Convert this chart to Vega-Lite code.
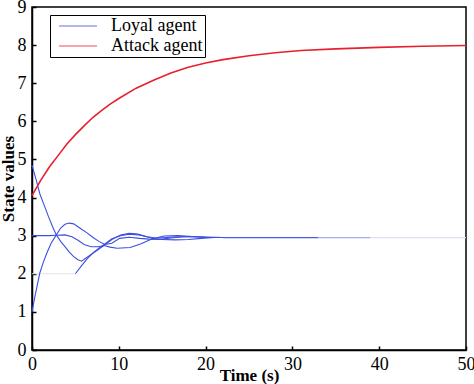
{
  "$schema": "https://vega.github.io/schema/vega-lite/v6.json",
  "width": 434,
  "height": 343,
  "autosize": {"type": "none"},
  "padding": {"left": 32, "top": 7, "right": 8, "bottom": 34},
  "config": {
    "view": {"stroke": "black", "strokeWidth": 1.5},
    "font": "Liberation Serif, Times New Roman, Times, DejaVu Serif, serif",
    "axis": {
      "grid": false,
      "domainColor": "black",
      "domainWidth": 1.5,
      "tickColor": "black",
      "tickSize": -4,
      "tickWidth": 1.5,
      "labelFlush": false,
      "labelOverlap": false
    }
  },
  "datasets": {
    "lines": [
      {"series": "Loyal agent", "agent": "A", "t": 0, "v": 3.0},
      {"series": "Loyal agent", "agent": "A", "t": 1, "v": 3.0},
      {"series": "Loyal agent", "agent": "A", "t": 2, "v": 3.0},
      {"series": "Loyal agent", "agent": "A", "t": 2.8, "v": 3.01},
      {"series": "Loyal agent", "agent": "A", "t": 3.8, "v": 3.02},
      {"series": "Loyal agent", "agent": "A", "t": 4.6, "v": 2.97},
      {"series": "Loyal agent", "agent": "A", "t": 5.3, "v": 2.88},
      {"series": "Loyal agent", "agent": "A", "t": 6.0, "v": 2.77},
      {"series": "Loyal agent", "agent": "A", "t": 6.8, "v": 2.71},
      {"series": "Loyal agent", "agent": "A", "t": 7.6, "v": 2.71},
      {"series": "Loyal agent", "agent": "A", "t": 8.3, "v": 2.74},
      {"series": "Loyal agent", "agent": "A", "t": 9.0, "v": 2.70},
      {"series": "Loyal agent", "agent": "A", "t": 9.8, "v": 2.67},
      {"series": "Loyal agent", "agent": "A", "t": 11.3, "v": 2.69},
      {"series": "Loyal agent", "agent": "A", "t": 12.5, "v": 2.78},
      {"series": "Loyal agent", "agent": "A", "t": 13.8, "v": 2.91},
      {"series": "Loyal agent", "agent": "A", "t": 15.2, "v": 2.99},
      {"series": "Loyal agent", "agent": "A", "t": 16.8, "v": 3.0},
      {"series": "Loyal agent", "agent": "A", "t": 18.5, "v": 2.98},
      {"series": "Loyal agent", "agent": "A", "t": 20.0, "v": 2.96},
      {"series": "Loyal agent", "agent": "A", "t": 22.0, "v": 2.95},
      {"series": "Loyal agent", "agent": "B", "t": 0, "v": 4.85},
      {"series": "Loyal agent", "agent": "B", "t": 0.5, "v": 4.45},
      {"series": "Loyal agent", "agent": "B", "t": 0.9, "v": 4.1},
      {"series": "Loyal agent", "agent": "B", "t": 1.4, "v": 3.8},
      {"series": "Loyal agent", "agent": "B", "t": 1.9, "v": 3.5},
      {"series": "Loyal agent", "agent": "B", "t": 2.4, "v": 3.22},
      {"series": "Loyal agent", "agent": "B", "t": 2.8, "v": 3.02},
      {"series": "Loyal agent", "agent": "B", "t": 3.3, "v": 2.85},
      {"series": "Loyal agent", "agent": "B", "t": 3.8, "v": 2.71},
      {"series": "Loyal agent", "agent": "B", "t": 4.3, "v": 2.57},
      {"series": "Loyal agent", "agent": "B", "t": 4.8, "v": 2.45},
      {"series": "Loyal agent", "agent": "B", "t": 5.3, "v": 2.37},
      {"series": "Loyal agent", "agent": "B", "t": 5.7, "v": 2.33},
      {"series": "Loyal agent", "agent": "B", "t": 6.4, "v": 2.44},
      {"series": "Loyal agent", "agent": "B", "t": 7.1, "v": 2.55},
      {"series": "Loyal agent", "agent": "B", "t": 7.8, "v": 2.66},
      {"series": "Loyal agent", "agent": "B", "t": 8.4, "v": 2.76},
      {"series": "Loyal agent", "agent": "B", "t": 9.2, "v": 2.9},
      {"series": "Loyal agent", "agent": "B", "t": 10.2, "v": 3.02},
      {"series": "Loyal agent", "agent": "B", "t": 11.2, "v": 3.06},
      {"series": "Loyal agent", "agent": "B", "t": 12.2, "v": 3.04},
      {"series": "Loyal agent", "agent": "B", "t": 13.2, "v": 2.97},
      {"series": "Loyal agent", "agent": "B", "t": 14.0, "v": 2.92},
      {"series": "Loyal agent", "agent": "B", "t": 15.0, "v": 2.91},
      {"series": "Loyal agent", "agent": "B", "t": 16.0, "v": 2.94},
      {"series": "Loyal agent", "agent": "B", "t": 17.5, "v": 2.97},
      {"series": "Loyal agent", "agent": "B", "t": 19.0, "v": 2.97},
      {"series": "Loyal agent", "agent": "B", "t": 20.5, "v": 2.96},
      {"series": "Loyal agent", "agent": "B", "t": 22.0, "v": 2.95},
      {"series": "Loyal agent", "agent": "C", "t": 0, "v": 1.0},
      {"series": "Loyal agent", "agent": "C", "t": 0.35, "v": 1.42},
      {"series": "Loyal agent", "agent": "C", "t": 0.9, "v": 2.02},
      {"series": "Loyal agent", "agent": "C", "t": 1.3, "v": 2.3},
      {"series": "Loyal agent", "agent": "C", "t": 1.7, "v": 2.54},
      {"series": "Loyal agent", "agent": "C", "t": 2.2, "v": 2.8},
      {"series": "Loyal agent", "agent": "C", "t": 2.8, "v": 3.02},
      {"series": "Loyal agent", "agent": "C", "t": 3.3, "v": 3.2},
      {"series": "Loyal agent", "agent": "C", "t": 3.8, "v": 3.3},
      {"series": "Loyal agent", "agent": "C", "t": 4.3, "v": 3.33},
      {"series": "Loyal agent", "agent": "C", "t": 4.8, "v": 3.31},
      {"series": "Loyal agent", "agent": "C", "t": 5.5, "v": 3.2},
      {"series": "Loyal agent", "agent": "C", "t": 6.3, "v": 3.08},
      {"series": "Loyal agent", "agent": "C", "t": 7.0, "v": 2.96},
      {"series": "Loyal agent", "agent": "C", "t": 7.7, "v": 2.85},
      {"series": "Loyal agent", "agent": "C", "t": 8.4, "v": 2.77},
      {"series": "Loyal agent", "agent": "C", "t": 9.2, "v": 2.8},
      {"series": "Loyal agent", "agent": "C", "t": 10.1, "v": 2.93},
      {"series": "Loyal agent", "agent": "C", "t": 11.2, "v": 2.96},
      {"series": "Loyal agent", "agent": "C", "t": 12.4, "v": 2.93},
      {"series": "Loyal agent", "agent": "C", "t": 13.5, "v": 2.91},
      {"series": "Loyal agent", "agent": "C", "t": 15.0, "v": 2.9},
      {"series": "Loyal agent", "agent": "C", "t": 16.5, "v": 2.89},
      {"series": "Loyal agent", "agent": "C", "t": 18.0, "v": 2.9},
      {"series": "Loyal agent", "agent": "C", "t": 19.5, "v": 2.93},
      {"series": "Loyal agent", "agent": "C", "t": 21.0, "v": 2.95},
      {"series": "Loyal agent", "agent": "C", "t": 22.0, "v": 2.95},
      {"series": "Loyal agent", "agent": "D", "t": 5.0, "v": 2.0},
      {"series": "Loyal agent", "agent": "D", "t": 5.6, "v": 2.18},
      {"series": "Loyal agent", "agent": "D", "t": 6.3, "v": 2.38},
      {"series": "Loyal agent", "agent": "D", "t": 7.0, "v": 2.54},
      {"series": "Loyal agent", "agent": "D", "t": 7.7, "v": 2.67},
      {"series": "Loyal agent", "agent": "D", "t": 8.4, "v": 2.78},
      {"series": "Loyal agent", "agent": "D", "t": 9.2, "v": 2.92},
      {"series": "Loyal agent", "agent": "D", "t": 10.2, "v": 3.0},
      {"series": "Loyal agent", "agent": "D", "t": 11.2, "v": 3.04},
      {"series": "Loyal agent", "agent": "D", "t": 12.3, "v": 3.02},
      {"series": "Loyal agent", "agent": "D", "t": 13.3, "v": 2.97},
      {"series": "Loyal agent", "agent": "D", "t": 14.3, "v": 2.94},
      {"series": "Loyal agent", "agent": "D", "t": 15.5, "v": 2.95},
      {"series": "Loyal agent", "agent": "D", "t": 17.0, "v": 2.97},
      {"series": "Loyal agent", "agent": "D", "t": 18.5, "v": 2.97},
      {"series": "Loyal agent", "agent": "D", "t": 20.0, "v": 2.96},
      {"series": "Loyal agent", "agent": "D", "t": 22.0, "v": 2.95},
      {"series": "Attack agent", "agent": "R", "t": 0, "v": 4.05},
      {"series": "Attack agent", "agent": "R", "t": 1, "v": 4.45},
      {"series": "Attack agent", "agent": "R", "t": 2, "v": 4.8},
      {"series": "Attack agent", "agent": "R", "t": 3, "v": 5.1},
      {"series": "Attack agent", "agent": "R", "t": 4, "v": 5.4},
      {"series": "Attack agent", "agent": "R", "t": 5, "v": 5.65},
      {"series": "Attack agent", "agent": "R", "t": 6, "v": 5.88},
      {"series": "Attack agent", "agent": "R", "t": 7, "v": 6.1},
      {"series": "Attack agent", "agent": "R", "t": 8, "v": 6.28},
      {"series": "Attack agent", "agent": "R", "t": 9, "v": 6.45},
      {"series": "Attack agent", "agent": "R", "t": 10, "v": 6.6},
      {"series": "Attack agent", "agent": "R", "t": 12, "v": 6.87},
      {"series": "Attack agent", "agent": "R", "t": 14, "v": 7.08},
      {"series": "Attack agent", "agent": "R", "t": 16, "v": 7.27},
      {"series": "Attack agent", "agent": "R", "t": 18, "v": 7.42},
      {"series": "Attack agent", "agent": "R", "t": 20, "v": 7.53},
      {"series": "Attack agent", "agent": "R", "t": 22, "v": 7.62},
      {"series": "Attack agent", "agent": "R", "t": 25, "v": 7.72},
      {"series": "Attack agent", "agent": "R", "t": 28, "v": 7.8},
      {"series": "Attack agent", "agent": "R", "t": 31, "v": 7.86},
      {"series": "Attack agent", "agent": "R", "t": 35, "v": 7.9},
      {"series": "Attack agent", "agent": "R", "t": 40, "v": 7.94},
      {"series": "Attack agent", "agent": "R", "t": 45, "v": 7.97},
      {"series": "Attack agent", "agent": "R", "t": 50, "v": 7.99}
    ],
    "faint": [
      {"t": 0, "v": 2.0},
      {"t": 5, "v": 2.0}
    ],
    "tail": [
      {"t": 22, "v": 2.95},
      {"t": 27, "v": 2.95},
      {"t": 33, "v": 2.95},
      {"t": 39, "v": 2.95},
      {"t": 45, "v": 2.95},
      {"t": 50, "v": 2.95}
    ]
  },
  "encoding": {
    "x": {
      "field": "t",
      "type": "quantitative",
      "scale": {"domain": [0, 50], "nice": false},
      "axis": {
        "values": [0, 10, 20, 30, 40, 50],
        "labelPadding": 9,
        "labelFont": "Liberation Serif, Times New Roman, Times, DejaVu Serif, serif",
        "labelFontSize": 18,
        "labelColor": "black",
        "labelOverlap": false,
        "title": "Time (s)",
        "titleFont": "Liberation Serif, Times New Roman, Times, DejaVu Serif, serif",
        "titleFontSize": 17,
        "titleFontWeight": "bold",
        "titleColor": "black",
        "titlePadding": -6
      }
    },
    "y": {
      "field": "v",
      "type": "quantitative",
      "scale": {"domain": [0, 9], "nice": false},
      "axis": {
        "values": [0, 1, 2, 3, 4, 5, 6, 7, 8, 9],
        "labelPadding": 10,
        "labelFont": "Liberation Serif, Times New Roman, Times, DejaVu Serif, serif",
        "labelFontSize": 18,
        "labelColor": "black",
        "labelOverlap": false,
        "title": "State values",
        "titleFont": "Liberation Serif, Times New Roman, Times, DejaVu Serif, serif",
        "titleFontSize": 17,
        "titleFontWeight": "bold",
        "titleColor": "black",
        "titlePadding": 0
      }
    }
  },
  "layer": [
    {
      "data": {"name": "faint"},
      "mark": {"type": "line", "color": "#e4e4ee", "strokeWidth": 1}
    },
    {
      "data": {"name": "tail"},
      "transform": [{"filter": "datum.t <= 33"}],
      "mark": {"type": "line", "color": "#4a5ce0", "strokeWidth": 1.3}
    },
    {
      "data": {"name": "tail"},
      "transform": [{"filter": "datum.t >= 33 && datum.t <= 39"}],
      "mark": {"type": "line", "color": "#a4acee", "strokeWidth": 1.2}
    },
    {
      "data": {"name": "tail"},
      "transform": [{"filter": "datum.t >= 39"}],
      "mark": {"type": "line", "color": "#dcdff6", "strokeWidth": 1.2}
    },
    {
      "data": {"name": "lines"},
      "transform": [{"filter": "datum.series == 'Loyal agent'"}],
      "mark": {"type": "line", "strokeWidth": 1.1},
      "encoding": {
        "detail": {"field": "agent"},
        "color": {
          "field": "series",
          "type": "nominal",
          "scale": {"domain": ["Loyal agent", "Attack agent"], "range": ["#3d4fe0", "#e8202e"]},
          "legend": {
            "orient": "none",
            "legendX": 18,
            "legendY": 8,
            "title": null,
            "symbolType": "M-0.4,0H7.2",
            "symbolSize": 100,
            "symbolStrokeWidth": 1,
            "symbolOpacity": 0.8,
            "labelFont": "Liberation Serif, Times New Roman, Times, DejaVu Serif, serif",
            "labelFontSize": 18,
            "labelColor": "black",
            "labelOffset": 41,
            "rowPadding": 2,
            "padding": 2,
            "strokeColor": "black",
            "fillColor": "white"
          }
        }
      }
    },
    {
      "data": {"name": "lines"},
      "transform": [{"filter": "datum.series == 'Attack agent'"}],
      "mark": {"type": "line", "strokeWidth": 1.6},
      "encoding": {
        "detail": {"field": "agent"},
        "color": {"field": "series", "type": "nominal"}
      }
    }
  ]
}
